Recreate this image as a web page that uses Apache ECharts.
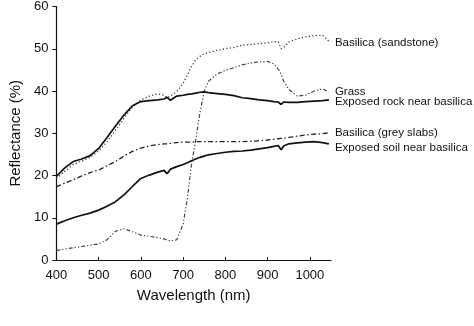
<!DOCTYPE html>
<html>
<head>
<meta charset="utf-8">
<script src="https://cdn.jsdelivr.net/npm/echarts@6/dist/echarts.min.js"></script>
<style>
html,body{margin:0;padding:0;background:#fff;}
#chart{width:474px;height:326px;}
</style>
</head>
<body>
<div id="chart"></div>
<script>
const wavelength = [400,420,440,460,480,500,520,540,560,580,600,620,640,655,662,670,685,700,710,720,730,740,750,760,780,800,820,840,860,880,900,915,925,932,938,950,970,990,1010,1030,1045];
const sandstone = [19.3,21.0,22.6,23.4,24.3,25.8,28.0,30.7,33.6,36.2,37.9,38.8,39.3,39.0,38.4,38.8,39.9,41.8,43.8,45.9,47.4,48.2,48.8,49.1,49.6,50.0,50.3,50.8,51.0,51.2,51.4,51.7,51.6,50.0,50.3,51.6,52.3,52.8,53.1,53.2,51.8];
const grass = [2.2,2.6,2.9,3.2,3.5,3.8,4.8,6.8,7.4,6.7,5.9,5.6,5.3,5.0,4.7,4.5,4.8,8.5,14.5,22.8,28.5,35.0,40.0,42.3,44.0,44.9,45.5,46.2,46.6,46.9,47.0,46.4,45.2,44.0,42.3,40.4,38.8,39.0,40.0,40.5,39.8];
const rock = [19.8,21.8,23.3,23.9,24.7,26.4,29.0,31.7,34.3,36.5,37.5,37.7,37.9,38.1,38.5,37.8,38.8,39.0,39.2,39.3,39.5,39.7,39.8,39.6,39.4,39.2,38.9,38.4,38.2,37.9,37.7,37.5,37.4,36.8,37.4,37.3,37.3,37.5,37.6,37.7,37.9];
const greySlabs = [17.3,18.2,19.0,19.9,20.7,21.3,22.3,23.3,24.6,25.7,26.5,27.0,27.3,27.5,27.5,27.6,27.8,27.9,27.9,27.9,28.0,28.0,28.0,28.0,28.0,28.0,28.0,28.0,28.1,28.2,28.4,28.6,28.7,28.8,28.8,29.0,29.3,29.6,29.8,29.9,30.1];
const soil = [8.5,9.3,10.0,10.6,11.1,11.8,12.7,13.8,15.4,17.4,19.3,20.1,20.8,21.2,20.4,21.5,22.1,22.6,23.0,23.5,23.9,24.3,24.6,24.9,25.2,25.5,25.7,25.8,26.0,26.3,26.6,26.9,27.1,26.1,27.0,27.5,27.7,27.9,28.0,27.8,27.5];
const seriesNames = ['Basilica (sandstone)','Grass','Exposed rock near basilica','Basilica (grey slabs)','Exposed soil near basilica'];
const xTicks = [400,500,600,700,800,900,1000];
const yTicks = [0,10,20,30,40,50,60];

const FONT = 'Liberation Sans, Arial, Helvetica, sans-serif';
function pairs(vals){ return wavelength.map((w,i)=>[w, vals[i]]); }

const styles = [
  {data: sandstone, color:'#444', width:1.3, type:[1.3,2.2], offset:[0,2]},
  {data: grass, color:'#444', width:1.2, type:[4,2,1.3,2,1.3,2], offset:[0,0]},
  {data: rock, color:'#111', width:1.7, type:'solid', offset:[0,2]},
  {data: greySlabs, color:'#222', width:1.3, type:[5,2.5,1.5,2.5], offset:[0,0]},
  {data: soil, color:'#111', width:1.7, type:'solid', offset:[0,4]}
];

const chart = echarts.init(document.getElementById('chart'), null, {renderer:'canvas'});
chart.setOption({
  animation:false,
  backgroundColor:'#fff',
  grid:{left:46, right:143, top:6, bottom:66, containLabel:false},
  xAxis:{
    type:'value', min:400, max:1050, interval:100,
    name:'Wavelength (nm)', nameLocation:'middle', nameGap:28,
    nameTextStyle:{fontFamily:FONT, fontSize:15, color:'#111'},
    axisLine:{show:true, lineStyle:{color:'#111', width:1.2}},
    axisTick:{show:true, inside:true, length:3, customValues:xTicks, lineStyle:{color:'#111'}},
    axisLabel:{fontFamily:FONT, fontSize:13, color:'#111', margin:9, customValues:xTicks, formatter:v=>String(v)},
    splitLine:{show:false}
  },
  yAxis:{
    type:'value', min:0, max:60, interval:10,
    name:'Reflectance (%)', nameLocation:'middle', nameGap:32,
    nameTextStyle:{fontFamily:FONT, fontSize:15, color:'#111'},
    axisLine:{show:true, lineStyle:{color:'#111', width:1.2}},
    axisTick:{show:true, inside:false, length:4, customValues:yTicks, lineStyle:{color:'#111'}},
    axisLabel:{fontFamily:FONT, fontSize:13, color:'#111', margin:8, customValues:yTicks, formatter:v=>String(v)},
    splitLine:{show:false}
  },
  series: styles.map((s,i)=>({
    type:'line', name:seriesNames[i], data:pairs(s.data),
    showSymbol:false, smooth:false,
    lineStyle:{color:s.color, width:s.width, type:s.type},
    itemStyle:{color:s.color},
    endLabel:{show:true, formatter:seriesNames[i], distance:6, offset:s.offset,
      fontFamily:FONT, fontSize:11.5, color:'#111'},
    labelLayout:{hideOverlap:false},
    emphasis:{disabled:true}
  }))
});
</script>
</body>
</html>
